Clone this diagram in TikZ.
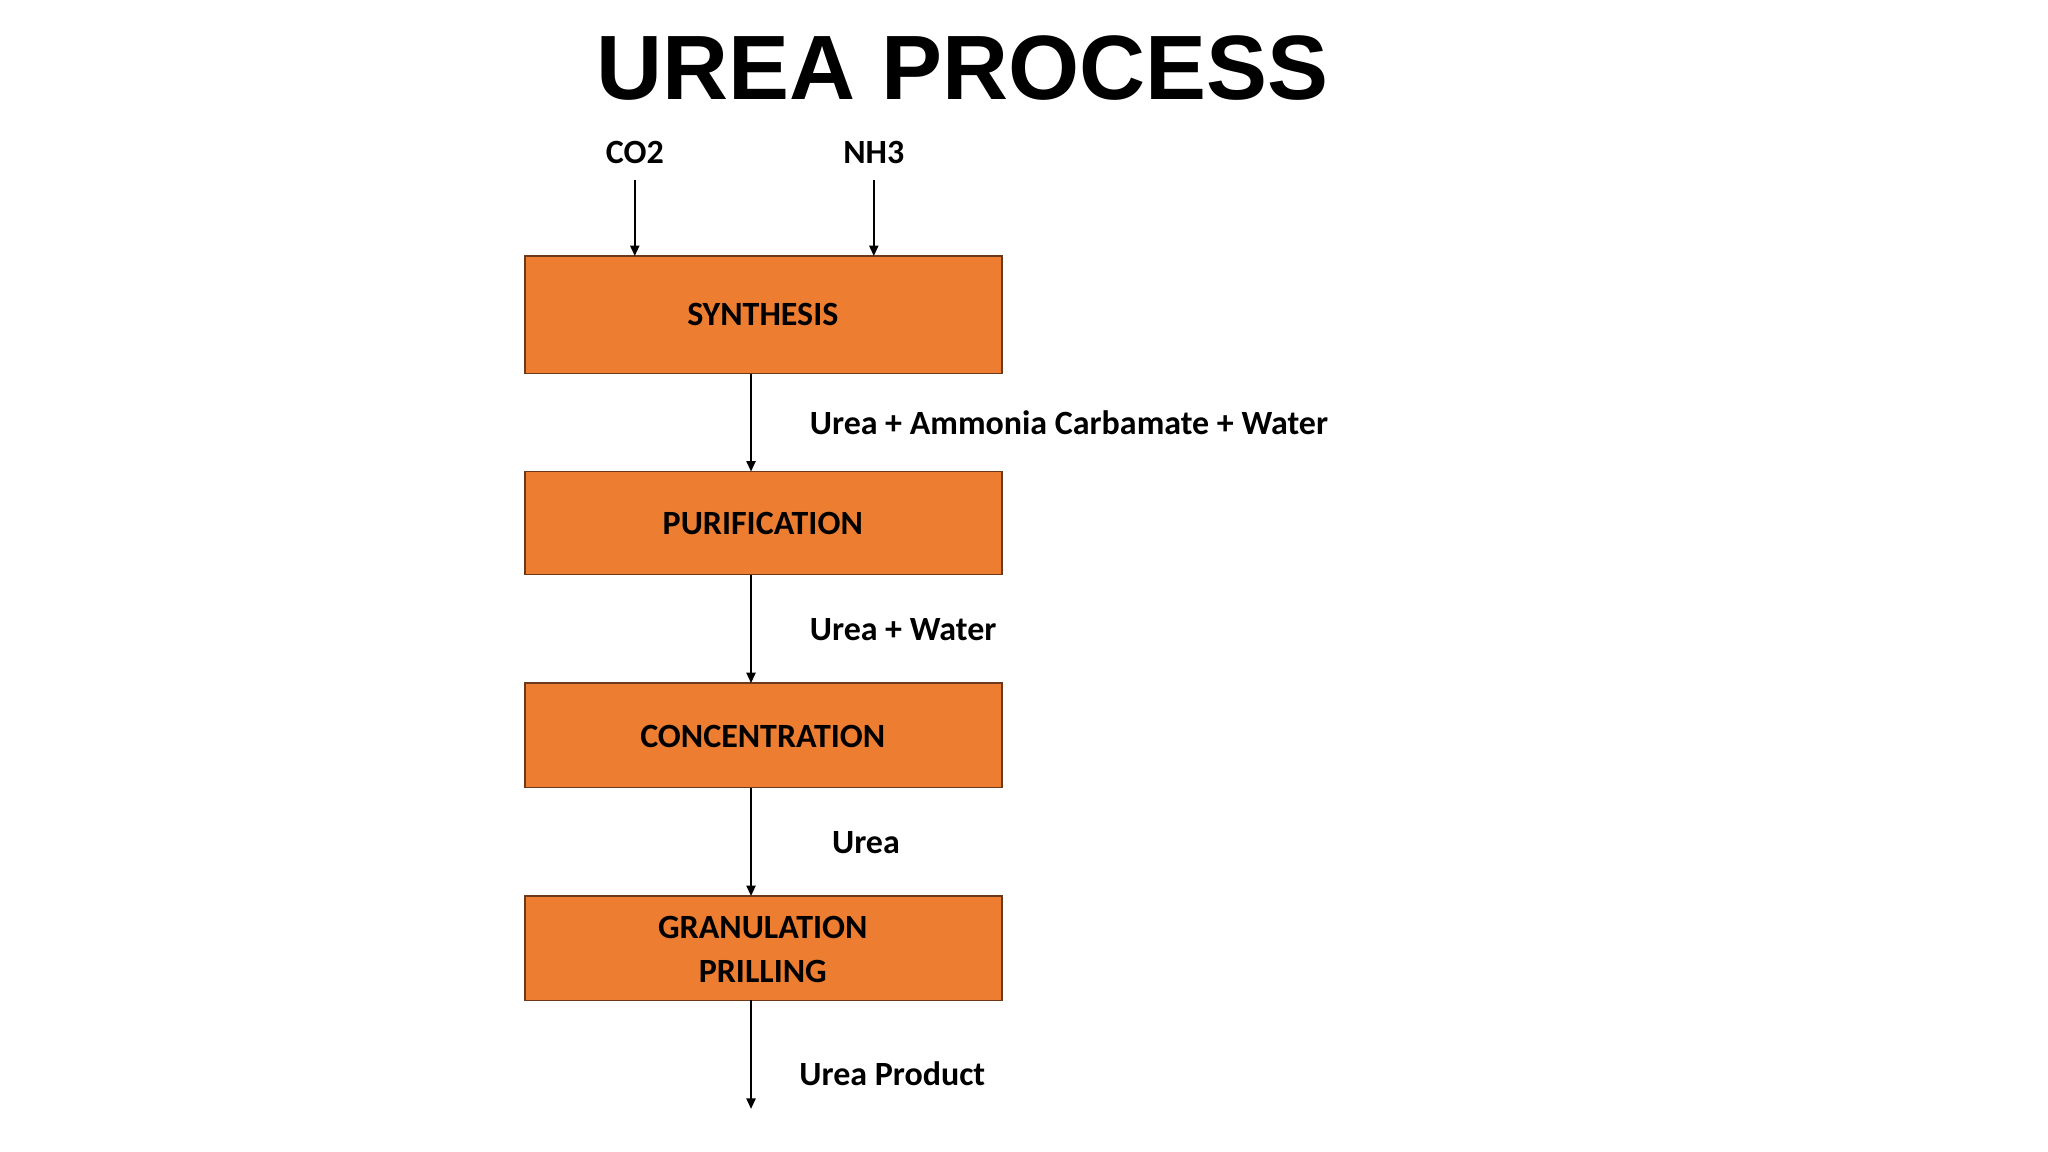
\documentclass[tikz,border=0pt]{standalone}
\usepackage{fontspec}
\setmainfont{Carlito}
\newfontfamily\titlefont{Liberation Sans}
\usetikzlibrary{arrows.meta}
\definecolor{boxfill}{HTML}{ED7D31}
\definecolor{boxdraw}{HTML}{6B3A1A}
\begin{document}
\begin{tikzpicture}[x=0.5pt,y=-0.5pt,
  procbox/.style={draw=boxdraw,fill=boxfill,line width=0.6pt,font=\fontsize{13}{16}\selectfont\bfseries,align=center},
  flow/.style={-{Triangle[length=4pt,width=3.5pt]},line width=0.7pt},
  lbl/.style={font=\fontsize{13}{16}\selectfont\bfseries,anchor=west}]
\useasboundingbox (0,0) rectangle (1568,882);
\node[font=\titlefont\fontsize{35}{40}\selectfont\bfseries] (title) at (737,52) {UREA PROCESS};
\node[font=\fontsize{13}{16}\selectfont\bfseries] (co2) at (486,117) {CO2};
\node[font=\fontsize{13}{16}\selectfont\bfseries] (nh3) at (669,117) {NH3};
\path[procbox] (402,196) rectangle (767,286);
\node[font=\fontsize{13}{16}\selectfont\bfseries] (syn) at (584,241) {SYNTHESIS};
\path[procbox] (402,361) rectangle (767,440);
\node[font=\fontsize{13}{16}\selectfont\bfseries] (pur) at (584,401) {PURIFICATION};
\path[procbox] (402,523) rectangle (767,603);
\node[font=\fontsize{13}{16}\selectfont\bfseries] (con) at (584,564) {CONCENTRATION};
\path[procbox] (402,686) rectangle (767,766);
\node[font=\fontsize{13}{16}\selectfont\bfseries,align=center] (gra) at (584,727) {GRANULATION\\[1pt]PRILLING};
\coordinate (a1) at (486,138); \coordinate (a1e) at (486,196);
\coordinate (b1) at (669,138); \coordinate (b1e) at (669,196);
\draw[flow] (a1) -- (a1e);
\draw[flow] (b1) -- (b1e);
\coordinate (s1) at (575,286); \coordinate (s2) at (575,361);
\coordinate (p1) at (575,440); \coordinate (p2) at (575,523);
\coordinate (c1) at (575,603); \coordinate (c2) at (575,686);
\coordinate (g1) at (575,766); \coordinate (g2) at (575,849);
\draw[flow] (s1) -- (s2);
\draw[flow] (p1) -- (p2);
\draw[flow] (c1) -- (c2);
\draw[flow] (g1) -- (g2);
\node[lbl] (l1) at (613,324) {Urea + Ammonia Carbamate + Water};
\node[lbl] (l2) at (613,482) {Urea + Water};
\node[lbl] (l3) at (630,645) {Urea};
\node[lbl] (l4) at (605,822) {Urea Product};
\end{tikzpicture}
\end{document}
